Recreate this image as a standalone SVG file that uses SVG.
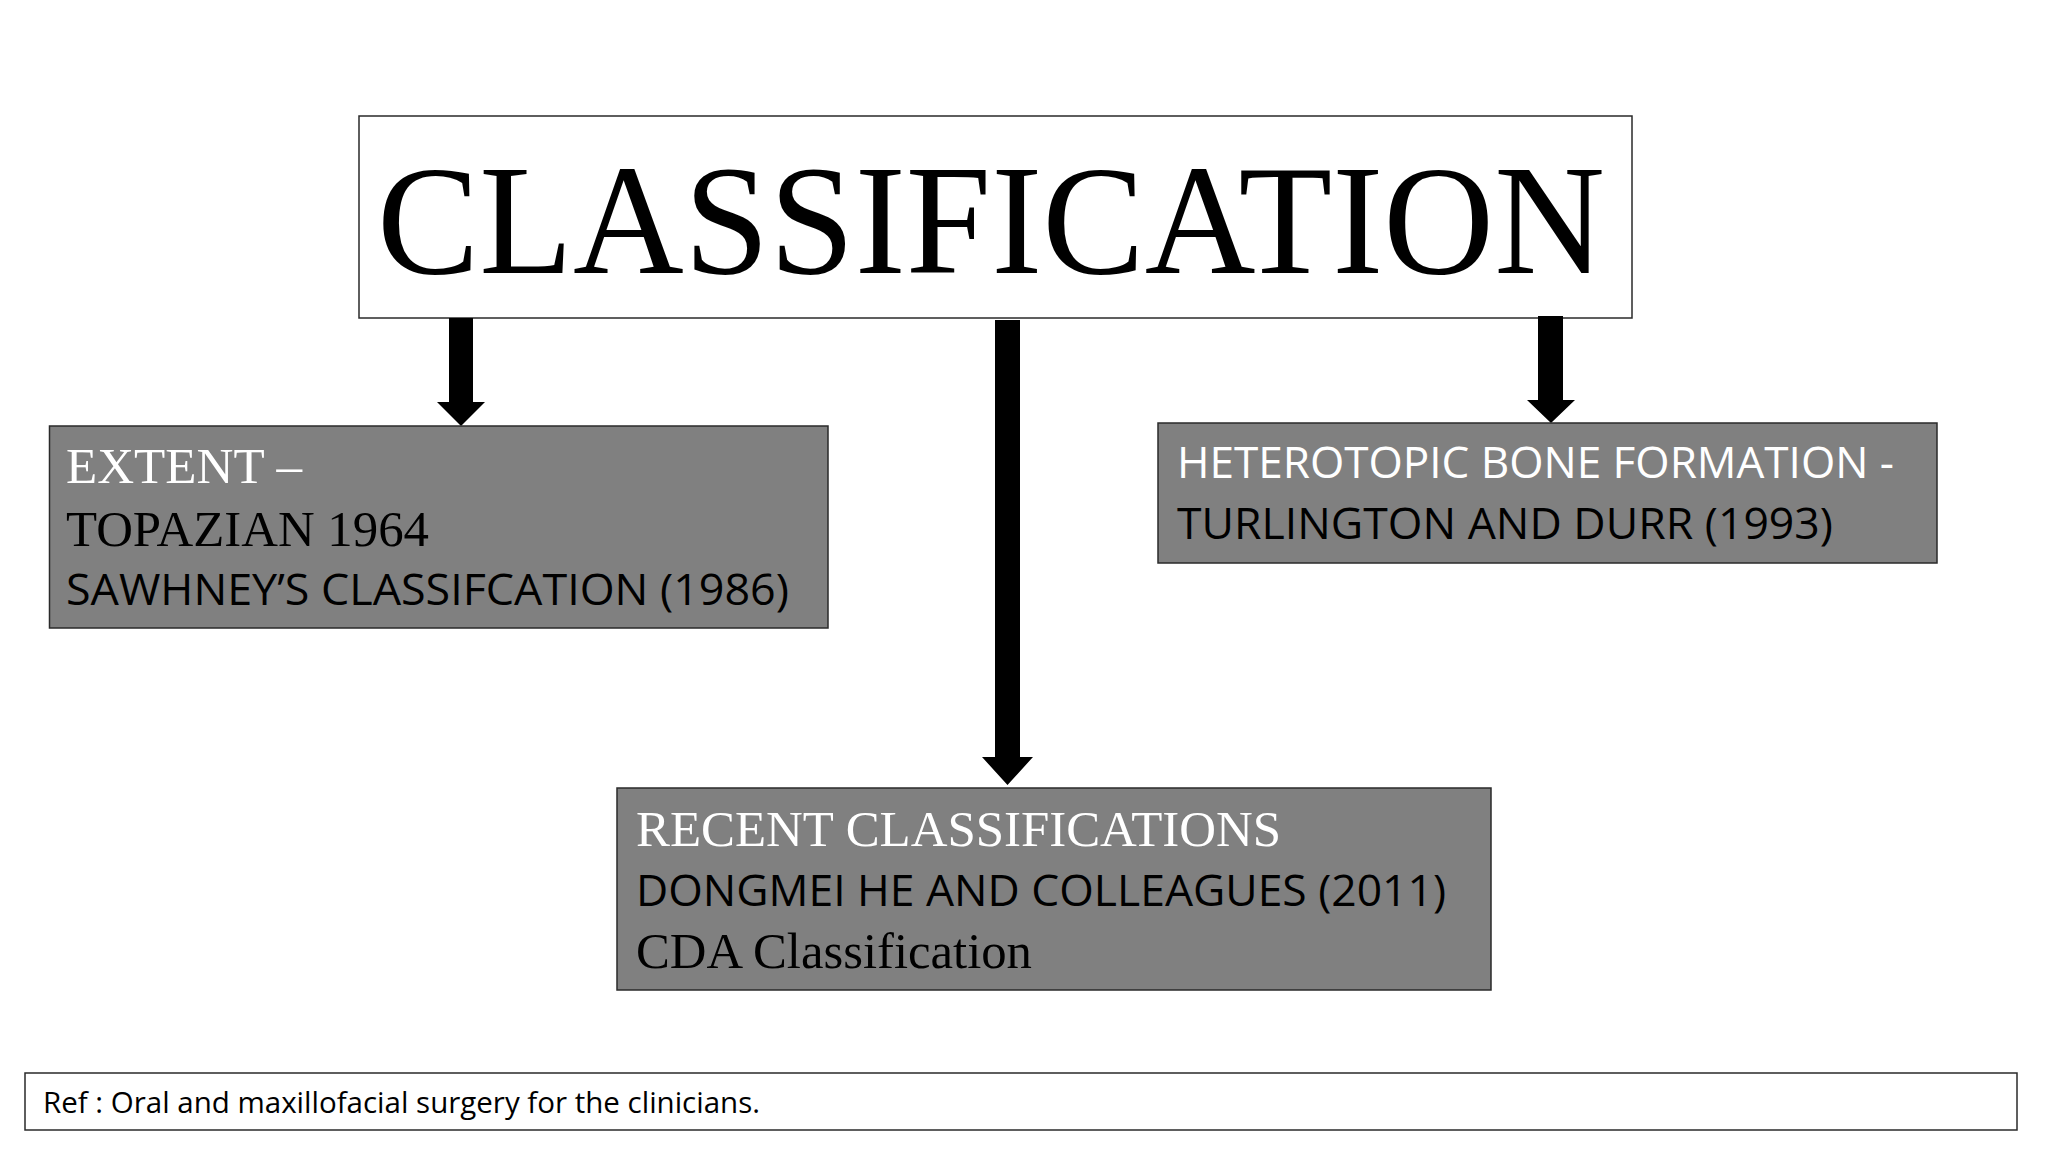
<svg xmlns="http://www.w3.org/2000/svg" width="2048" height="1152" viewBox="0 0 2048 1152">
<style>
.box{fill:#808080;stroke:#2a2a2a;stroke-width:1.5}
.wbox{fill:#ffffff;stroke:#2a2a2a;stroke-width:1.5}
.serif{font-family:"Liberation Serif","Times New Roman",serif}
.sans{font-family:"Open Sans","Liberation Sans",sans-serif}
.arrow{fill:#000000}
</style>
<rect width="2048" height="1152" fill="#ffffff"/>
<g id="title">
<rect class="wbox" x="359" y="116" width="1273" height="202"/>
<text class="serif" x="377" y="273" font-size="156" fill="#000" textLength="1228" lengthAdjust="spacingAndGlyphs">CLASSIFICATION</text>
</g>
<g id="connectors">
<polygon class="arrow" points="449,318 473,318 473,402 485,402 461,426 437,402 449,402"/>
<polygon class="arrow" points="995,320 1020,320 1020,757 1033,757 1007.5,785 982,757 995,757"/>
<polygon class="arrow" points="1538,316 1563,316 1563,400 1575,400 1551,423 1527,400 1538,400"/>
</g>
<g id="extent">
<rect class="box" x="49.5" y="426" width="778.5" height="202"/>
<text class="serif" x="66" y="483" font-size="51" fill="#fff" textLength="236" lengthAdjust="spacingAndGlyphs">EXTENT –</text>
<text class="serif" x="66" y="546" font-size="51" fill="#000" textLength="363" lengthAdjust="spacingAndGlyphs">TOPAZIAN 1964</text>
<text class="sans" x="66" y="605" font-size="44" fill="#000" textLength="723" lengthAdjust="spacingAndGlyphs">SAWHNEY’S CLASSIFCATION (1986)</text>
</g>
<g id="heterotopic">
<rect class="box" x="1158" y="423" width="779" height="140"/>
<text class="sans" x="1177" y="478" font-size="44" fill="#fff" textLength="717" lengthAdjust="spacingAndGlyphs">HETEROTOPIC BONE FORMATION -</text>
<text class="sans" x="1177" y="539" font-size="44" fill="#000" textLength="656" lengthAdjust="spacingAndGlyphs">TURLINGTON AND DURR (1993)</text>
</g>
<g id="recent">
<rect class="box" x="617" y="788" width="874" height="202"/>
<text class="serif" x="636" y="846" font-size="51" fill="#fff" textLength="645" lengthAdjust="spacingAndGlyphs">RECENT CLASSIFICATIONS</text>
<text class="sans" x="636" y="906" font-size="44" fill="#000" textLength="810" lengthAdjust="spacingAndGlyphs">DONGMEI HE AND COLLEAGUES (2011)</text>
<text class="serif" x="636" y="968" font-size="51" fill="#000" textLength="396" lengthAdjust="spacingAndGlyphs">CDA Classification</text>
</g>
<g id="reference">
<rect class="wbox" x="25" y="1073" width="1992" height="57"/>
<text class="sans" x="43" y="1113" font-size="29" fill="#000" textLength="717" lengthAdjust="spacingAndGlyphs">Ref : Oral and maxillofacial surgery for the clinicians.</text>
</g>
</svg>
